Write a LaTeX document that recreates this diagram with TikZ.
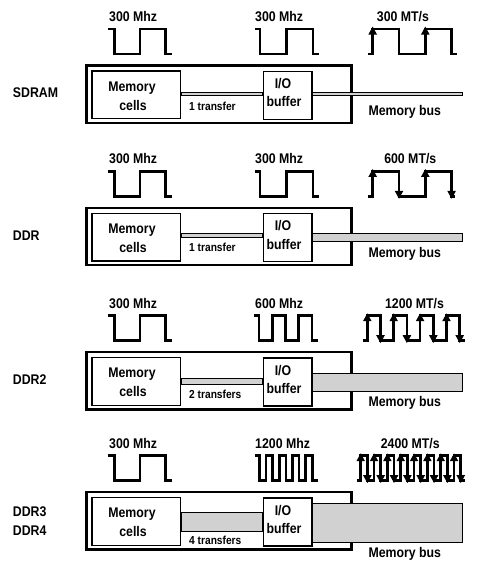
\documentclass[tikz,border=0pt]{standalone}
\usepackage{fontspec}
\setmainfont{Liberation Sans}[FakeStretch=0.88]
\usetikzlibrary{arrows.meta}
% common block: chip, memory cells, I/O buffer
\newcommand\memblock[1]{%
  \node[outerbox, minimum width=264.6pt, minimum height=57.3pt] (chip#1) at (86.7,65.5) {};
  \node[innerbox, minimum width=88.4pt, minimum height=47.7pt] (cells#1) at (91.15,70.15) {};
  \node[innerbox, minimum width=48.3pt, minimum height=48pt] (io#1) at (262.85,70.55) {};
  \node[lbl, anchor=base] (mem#1) at (132,91) {Memory};
  \node[lbl, anchor=base] (cel#1) at (133,110) {cells};
  \node[lbl, anchor=base] (ioa#1) at (283,88.3) {I/O};
  \node[lbl, anchor=base] (iob#1) at (284,106.7) {buffer};
}
% buses: #1 id, #2/#3 inner top/bottom, #4/#5 outer top/bottom
\newcommand\buses[5]{%
  \draw[bus] (cells#1.east |- 0,#2) rectangle (io#1.west |- 0,#3);
  \coordinate (busend#1) at (462.3,#5);
  \draw[bus] (io#1.east |- 0,#4) rectangle (busend#1);
}
% wave: #1 x start, #2 first edge, #3 spacing, #4 last edge index, #5 x end, #6 start level, #7 other level
\newcommand\sqwave[7]{%
  \draw[wave] (#1,#6) \foreach \k in {0,...,#4} { -- ({#2+\k*#3},{isodd(\k)?#7:#6}) -- ({#2+\k*#3},{isodd(\k)?#6:#7}) } -- (#5,54);
}
\newcommand\uparrows[3]{\foreach \k in {0,2,...,#3} \draw[edgearrow] ({#1+\k*#2},45) -- ({#1+\k*#2},26.5);}
\newcommand\downarrows[3]{\foreach \k in {1,3,...,#3} \draw[edgearrow] ({#1+\k*#2},38) -- ({#1+\k*#2},56.5);}
\begin{document}
\begin{tikzpicture}[x=1pt,y=-1pt,
  outerbox/.style={draw, line width=2.5pt, anchor=north west, inner sep=0pt, outer sep=0pt},
  innerbox/.style={draw, line width=1.4pt, anchor=north west, inner sep=0pt},
  bus/.style={fill=black!18, draw=black, line width=0.8pt},
  wave/.style={line width=2.6pt, line join=miter},
  edgearrow/.style={line width=2.6pt, -{Triangle[length=8pt,width=8pt]}},
  lbl/.style={font=\bfseries\fontsize{14}{16}\selectfont, inner sep=0pt},
  small/.style={font=\bfseries\fontsize{11.6}{14}\selectfont, inner sep=0pt},
]
\useasboundingbox (0,0) rectangle (488,568);

% ---------------- SDRAM ----------------
\begin{scope}
  \node[lbl, anchor=base west] (clkA1) at (109,21.3) {300 Mhz};
  \node[lbl, anchor=base west] (clkA2) at (255,21.3) {300 Mhz};
  \node[lbl, anchor=base] (rateA) at (403,21.3) {300 MT/s};
  \sqwave{108}{114.5}{25.5}{2}{172}{29}{54}
  \sqwave{255}{260}{26.5}{2}{318.5}{29}{54}
  \sqwave{367.7}{372.7}{26.3}{3}{456.7}{54}{29}
  \uparrows{372.7}{26.3}{3}
  \node[lbl, anchor=base west] (nameA) at (12.7,97.3) {SDRAM};
  \memblock{A}
  \buses{A}{92.4}{95.3}{92.4}{95.3}
  \node[small, anchor=base west] (trA) at (189,110) {1 transfer};
  \node[lbl, anchor=base west] (mbA) at (368.3,115) {Memory bus};
\end{scope}

% ---------------- DDR ----------------
\begin{scope}[shift={(0,142.4)}]
  \node[lbl, anchor=base west] (clkB1) at (109,21.3) {300 Mhz};
  \node[lbl, anchor=base west] (clkB2) at (255,21.3) {300 Mhz};
  \node[lbl, anchor=base] (rateB) at (410.3,21.3) {600 MT/s};
  \sqwave{108}{114.5}{25.5}{2}{172}{29}{54}
  \sqwave{255}{260}{26.5}{2}{318.5}{29}{54}
  \sqwave{367.7}{372.7}{26.3}{3}{455}{54}{29}
  \uparrows{372.7}{26.3}{3}
  \downarrows{372.7}{26.3}{3}
  \node[lbl, anchor=base west] (nameB) at (12.7,98.3) {DDR};
  \memblock{B}
  \buses{B}{91.3}{94.9}{91.3}{98.9}
  \node[small, anchor=base west] (trB) at (189,109.3) {1 transfer};
  \node[lbl, anchor=base west] (mbB) at (368.3,115.3) {Memory bus};
\end{scope}

% ---------------- DDR2 ----------------
\begin{scope}[shift={(0,286.7)}]
  \node[lbl, anchor=base west] (clkC1) at (109,21.3) {300 Mhz};
  \node[lbl, anchor=base west] (clkC2) at (255,21.3) {600 Mhz};
  \node[lbl, anchor=base] (rateC) at (414.5,21.3) {1200 MT/s};
  \sqwave{108}{114.5}{25.5}{2}{172}{29}{54}
  \sqwave{254}{259}{13.25}{4}{317.5}{29}{54}
  \sqwave{362.5}{367.3}{13.2}{7}{465}{54}{29}
  \uparrows{367.3}{13.2}{7}
  \downarrows{367.3}{13.2}{7}
  \node[lbl, anchor=base west] (nameC) at (12.7,97.6) {DDR2};
  \memblock{C}
  \buses{C}{91.4}{97.9}{87}{104.6}
  \node[small, anchor=base west] (trC) at (189,111.6) {2 transfers};
  \node[lbl, anchor=base west] (mbC) at (368.3,119.3) {Memory bus};
\end{scope}

% ---------------- DDR3 / DDR4 ----------------
\begin{scope}[shift={(0,426.7)}]
  \node[lbl, anchor=base west] (clkD1) at (109,21.3) {300 Mhz};
  \node[lbl, anchor=base west] (clkD2) at (255,21.3) {1200 Mhz};
  \node[lbl, anchor=base] (rateD) at (410.3,21.3) {2400 MT/s};
  \sqwave{108}{114.5}{25.5}{2}{172}{29}{54}
  \sqwave{255}{259.5}{6.6}{8}{318}{29}{54}
  \sqwave{356.7}{360.7}{6.67}{15}{465}{54}{29}
  \uparrows{360.7}{6.67}{15}
  \downarrows{360.7}{6.67}{15}
  \node[lbl, anchor=base west] (nameD1) at (12.7,90) {DDR3};
  \node[lbl, anchor=base west] (nameD2) at (12.7,109) {DDR4};
  \memblock{D}
  \buses{D}{85.4}{104.6}{77}{115.2}
  \node[small, anchor=base west] (trD) at (189,117.6) {4 transfers};
  \node[lbl, anchor=base west] (mbD) at (368.3,131) {Memory bus};
\end{scope}
\end{tikzpicture}
\end{document}
